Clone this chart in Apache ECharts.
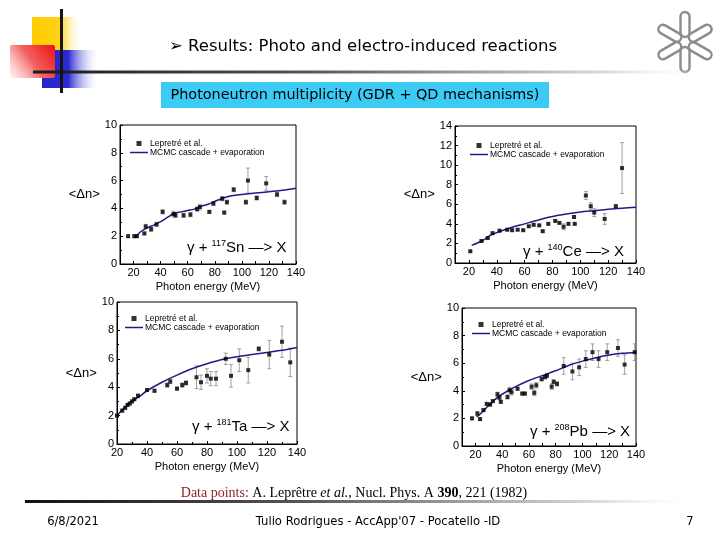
<!DOCTYPE html>
<html><head><meta charset="utf-8">
<script src="https://cdn.jsdelivr.net/npm/echarts@6/dist/echarts.min.js"></script>
<style>html,body{margin:0;padding:0;background:#fff}#c{width:720px;height:540px}</style>
</head><body><div id="c"></div>
<script>
// ---------- Panel 1: gamma + 117Sn ----------
const snX   = [16,20.5,22.5,28,29,33,37,41.5,49.5,51,57,62,67,69,76,79,85.5,87,89,94,103,104.5,111,118,126,131.5];
const snY   = [2.0,2.0,2.0,2.2,2.7,2.5,2.85,3.75,3.6,3.5,3.5,3.55,3.95,4.1,3.75,4.35,4.7,3.7,4.45,5.35,4.45,6.0,4.75,5.8,5.0,4.45];
const snErr = [0.1,0.1,0.1,0.1,0.15,0.15,0.15,0.15,0.2,0.15,0.15,0.15,0.15,0.2,0.1,0.15,0.15,0.1,0.15,0.15,0.15,0.9,0.15,0.5,0.15,0.15];
const snCurveX = [21,25,30,35,40,45,50,55,60,65,70,75,80,85,90,95,100,110,120,130,140];
const snCurveY = [1.9,2.3,2.6,2.8,3.05,3.35,3.65,3.75,3.85,3.95,4.15,4.3,4.5,4.7,4.85,4.95,5.0,5.1,5.2,5.3,5.45];

// ---------- Panel 2: gamma + 140Ce ----------
const ceX   = [21,29,33.5,37,42,47.5,51,55,59,63,66.5,70.5,73,77,82,85,88,91.5,95.5,96,104,107.5,110,117.5,125.5,130];
const ceY   = [1.2,2.25,2.55,3.05,3.3,3.4,3.35,3.4,3.35,3.75,3.9,3.85,3.25,4.0,4.3,4.1,3.7,4.0,4.7,4.0,6.9,5.8,5.15,4.5,5.8,9.7];
const ceErr = [0.1,0.1,0.1,0.1,0.1,0.1,0.1,0.1,0.1,0.1,0.1,0.1,0.1,0.1,0.1,0.1,0.3,0.1,0.15,0.1,0.4,0.35,0.4,0.55,0.15,2.6];
const ceCurveX = [22,30,35,40,50,60,70,80,90,100,110,120,130,140];
const ceCurveY = [1.8,2.3,2.8,3.1,3.6,4.0,4.4,4.75,5.0,5.2,5.35,5.5,5.6,5.7];

// ---------- Panel 3: gamma + 181Ta ----------
const taX   = [20,23.5,25.5,27,28.5,30,31.5,34,40,45,53.5,55.5,60,63.5,66,73,76,80,82.5,86,92.5,96,101.5,107.5,114.5,121.5,130,135.5];
const taY   = [2.0,2.35,2.55,2.75,2.85,3.0,3.15,3.4,3.8,3.75,4.15,4.4,3.9,4.15,4.3,4.7,4.35,4.8,4.6,4.6,6.0,4.8,5.9,5.2,6.7,6.3,7.2,5.75];
const taErr = [0.1,0.1,0.1,0.1,0.1,0.1,0.1,0.1,0.1,0.1,0.15,0.15,0.1,0.15,0.15,0.8,0.5,0.5,0.5,0.5,0.4,0.8,0.8,0.9,0.15,1.0,1.1,1.0];
const taCurveX = [20,25,30,35,40,50,60,70,80,90,100,110,120,130,140];
const taCurveY = [2.0,2.55,3.0,3.35,3.75,4.35,4.85,5.3,5.65,5.95,6.15,6.3,6.45,6.6,6.8];

// ---------- Panel 4: gamma + 208Pb ----------
const pbX   = [17.5,21.5,23.5,26,28.5,31,33,36.5,38,39,44,45.5,47,51.5,55,57,62,64,65.5,69.5,72,73.5,77,78.5,81,86,92.5,97.5,102.5,107.5,112,118.5,126.5,131.5,139];
const pbY   = [2.0,2.35,1.95,2.6,3.05,3.0,3.25,3.75,3.5,3.2,3.55,4.05,3.9,4.15,3.8,3.8,4.3,3.85,4.4,4.85,5.0,5.1,4.3,4.65,4.5,5.8,5.4,5.7,6.3,6.8,6.3,6.8,7.1,5.9,6.8];
const pbErr = [0.1,0.15,0.1,0.1,0.1,0.1,0.1,0.15,0.15,0.1,0.15,0.2,0.2,0.1,0.1,0.1,0.2,0.2,0.2,0.15,0.15,0.15,0.2,0.15,0.15,0.6,0.6,0.6,0.6,0.6,0.6,0.6,0.6,0.7,0.6];
const pbCurveX = [21,25,30,35,40,50,60,70,80,90,100,110,120,130,140];
const pbCurveY = [2.1,2.45,2.95,3.4,3.75,4.3,4.75,5.1,5.45,5.85,6.15,6.4,6.6,6.72,6.78];

// ---------- Tick / axis settings ----------
const xTickStep = 10;
const yMaxs = [10, 14, 10, 10];
const xMins = [10, 10, 20, 10];
const xMax = 140;
const yTickStep = 2;

const dataName = 'Lepretré et al.';
const curveName = 'MCMC cascade + evaporation';
const xTitle = 'Photon energy (MeV)';
const yTitle = '<Δn>';

const panelData = [
  {x: snX, y: snY, e: snErr, cx: snCurveX, cy: snCurveY},
  {x: ceX, y: ceY, e: ceErr, cx: ceCurveX, cy: ceCurveY},
  {x: taX, y: taY, e: taErr, cx: taCurveX, cy: taCurveY},
  {x: pbX, y: pbY, e: pbErr, cx: pbCurveX, cy: pbCurveY}
];

// layout (pixels)
const grids = [
  {left: 120, top: 125, width: 176, height: 139},
  {left: 455, top: 126, width: 181, height: 137},
  {left: 117, top: 302, width: 180, height: 142},
  {left: 462, top: 308, width: 174, height: 138}
];
const yNameGaps = [17, 8, 10, 9];
const legendPos = [
  {left: 125, top: 134},
  {left: 465, top: 136},
  {left: 120, top: 309},
  {left: 467, top: 315}
];

const chart = echarts.init(document.getElementById('c'), null, {renderer: 'canvas'});
const axisFont = 'Liberation Sans, Arial, sans-serif';

const xAxes = [], yAxes = [], series = [], legends = [];
panelData.forEach((p, i) => {
  xAxes.push({
    type: 'value', gridIndex: i, min: xMins[i], max: xMax,
    interval: i === 2 ? 20 : xTickStep,
    name: xTitle, nameLocation: 'middle', nameGap: 17,
    nameTextStyle: {fontFamily: axisFont, fontSize: 11, color: '#000'},
    axisLine: {onZero: false, lineStyle: {color: '#000', width: 1}},
    axisTick: {inside: true, length: 3, lineStyle: {color: '#000'}},
    minorTick: {show: i === 2, splitNumber: 2, length: 2, lineStyle: {color: '#000'}},
    splitLine: {show: false},
    axisLabel: {fontFamily: axisFont, fontSize: 11, color: '#000', margin: 3,
      formatter: v => (v % 20 === 0 ? String(v) : '')}
  });
  yAxes.push({
    type: 'value', gridIndex: i, min: 0, max: yMaxs[i], interval: yTickStep,
    name: yTitle, nameLocation: 'middle', nameRotate: 0, nameGap: yNameGaps[i],
    nameTextStyle: {fontFamily: axisFont, fontSize: 13, color: '#000'},
    axisLine: {onZero: false, lineStyle: {color: '#000', width: 1}},
    axisTick: {inside: true, length: 3, lineStyle: {color: '#000'}},
    minorTick: {show: true, splitNumber: 2, length: 2, lineStyle: {color: '#000'}},
    splitLine: {show: false},
    axisLabel: {fontFamily: axisFont, fontSize: 11, color: '#000', margin: 3}
  });
  const pts = p.x.map((x, k) => [x, p.y[k], p.e[k]]);
  series.push({
    type: 'custom', name: 'err' + i, xAxisIndex: i, yAxisIndex: i, silent: true,
    data: pts, z: 2,
    renderItem: (params, api) => {
      const x = api.value(0), y = api.value(1), e = api.value(2);
      const lo = api.coord([x, y - e]), hi = api.coord([x, y + e]);
      const st = {stroke: '#8a8a8a', lineWidth: 0.8};
      return {type: 'group', children: [
        {type: 'line', shape: {x1: lo[0], y1: lo[1], x2: hi[0], y2: hi[1]}, style: st},
        {type: 'line', shape: {x1: lo[0] - 2, y1: lo[1], x2: lo[0] + 2, y2: lo[1]}, style: st},
        {type: 'line', shape: {x1: hi[0] - 2, y1: hi[1], x2: hi[0] + 2, y2: hi[1]}, style: st}
      ]};
    }
  });
  series.push({
    type: 'scatter', name: dataName, xAxisIndex: i, yAxisIndex: i,
    symbol: 'rect', symbolSize: 4, itemStyle: {color: '#000'}, z: 4,
    data: pts.map(d => [d[0], d[1]])
  });
  series.push({
    type: 'line', name: curveName, xAxisIndex: i, yAxisIndex: i,
    symbol: 'none', smooth: 0.3, z: 3,
    lineStyle: {color: '#1c1c8c', width: 1.5}, itemStyle: {color: '#1c1c8c'},
    data: p.cx.map((x, k) => [x, p.cy[k]])
  });
  legends.push({
    left: legendPos[i].left, top: legendPos[i].top, orient: 'vertical',
    itemWidth: 18, itemHeight: 5, itemGap: 0, selectedMode: false,
    textStyle: {fontFamily: axisFont, fontSize: 8.5, color: '#000', padding: [0, 0, 0, -3]},
    data: [
      {name: dataName, icon: 'path://M0 0H10V10H0Z', itemStyle: {color: '#000'}},
      {name: curveName, icon: 'path://M0 0H36V3H0Z', itemStyle: {color: '#1c1c8c'}}
    ]
  });
});

const reactionRich = {
  n: {fontSize: 15, fontFamily: axisFont, fill: '#000', lineHeight: 18},
  s: {fontSize: 9, fontFamily: axisFont, fill: '#000', lineHeight: 18, verticalAlign: 'top', padding: [0, 0, 8, 0]}
};
const reactions = [
  {x: 187, y: 239, text: '{n|γ + }{s|117}{n|Sn —> X}'},
  {x: 523, y: 243, text: '{n|γ + }{s|140}{n|Ce —> X}'},
  {x: 192, y: 418, text: '{n|γ + }{s|181}{n|Ta —> X}'},
  {x: 530, y: 423, text: '{n|γ + }{s|208}{n|Pb —> X}'}
];

const slideFont = 'DejaVu Sans, sans-serif';
const serif = 'Liberation Serif, serif';
const graphics = [
  // decorative squares
  {type: 'rect', shape: {x: 32, y: 17, width: 51, height: 33}, z: 1,
   style: {fill: {type: 'linear', x: 0, y: 0, x2: 1, y2: 0, colorStops: [
     {offset: 0, color: '#FFCC00'}, {offset: 0.55, color: '#FFD21A'}, {offset: 1, color: 'rgba(255,255,255,0)'}]}}},
  {type: 'rect', shape: {x: 42, y: 50, width: 58, height: 38}, z: 2,
   style: {fill: {type: 'linear', x: 0, y: 0, x2: 1, y2: 0, colorStops: [
     {offset: 0, color: '#2626C8'}, {offset: 0.45, color: '#2a2ad0'}, {offset: 1, color: 'rgba(255,255,255,0)'}]}}},
  {type: 'rect', shape: {x: 10, y: 45, width: 45, height: 33, r: 2}, z: 3,
   style: {fill: {type: 'linear', x: 1, y: 0, x2: 0, y2: 1, colorStops: [
     {offset: 0, color: '#EE1111'}, {offset: 0.5, color: '#F46060'}, {offset: 1, color: 'rgba(255,235,235,0.6)'}]}}},
  {type: 'rect', shape: {x: 60, y: 9, width: 3, height: 84}, z: 5, style: {fill: '#151515'}},
  {type: 'rect', shape: {x: 33, y: 70.5, width: 680, height: 3}, z: 4,
   style: {fill: {type: 'linear', x: 0, y: 0, x2: 1, y2: 0, colorStops: [
     {offset: 0, color: '#1a1a1a'}, {offset: 0.4, color: '#555'}, {offset: 0.85, color: '#ddd'}, {offset: 1, color: 'rgba(255,255,255,0)'}]}}},
  // title
  {type: 'text', x: 169, y: 47, z: 6, style: {text: '➢ Results: Photo and electro-induced reactions',
    fontFamily: slideFont, fontSize: 16.5, fill: '#000', verticalAlign: 'middle'}},
  // subtitle box
  {type: 'rect', shape: {x: 161, y: 82, width: 388, height: 26}, z: 1, style: {fill: '#3CCBF4'}},
  {type: 'text', x: 355, y: 95, z: 6, style: {text: 'Photoneutron multiplicity (GDR + QD mechanisms)',
    fontFamily: slideFont, fontSize: 14.4, fill: '#000', align: 'center', verticalAlign: 'middle'}},
  // citation
  {type: 'text', x: 354, y: 493, z: 6, style: {
    text: '{r|Data points:}{t| A. Leprêtre }{i|et al.}{t|, Nucl. Phys. A }{b|390}{t|, 221 (1982)}',
    align: 'center', verticalAlign: 'middle',
    rich: {
      r: {fontFamily: serif, fontSize: 14, fill: '#8B1E1E'},
      t: {fontFamily: serif, fontSize: 14, fill: '#000'},
      i: {fontFamily: serif, fontSize: 14, fontStyle: 'italic', fill: '#000'},
      b: {fontFamily: serif, fontSize: 14, fontWeight: 'bold', fill: '#000'}
    }}},
  {type: 'rect', shape: {x: 25, y: 500, width: 680, height: 3}, z: 4,
   style: {fill: {type: 'linear', x: 0, y: 0, x2: 1, y2: 0, colorStops: [
     {offset: 0, color: '#111'}, {offset: 0.4, color: '#555'}, {offset: 0.85, color: '#ddd'}, {offset: 1, color: 'rgba(255,255,255,0)'}]}}},
  // footer
  {type: 'text', x: 73, y: 522, style: {text: '6/8/2021', fontFamily: slideFont, fontSize: 11.5, fill: '#000', align: 'center', verticalAlign: 'middle'}},
  {type: 'text', x: 378, y: 522, style: {text: "Tulio Rodrigues - AccApp'07 - Pocatello -ID", fontFamily: slideFont, fontSize: 11.6, fill: '#000', align: 'center', verticalAlign: 'middle'}},
  {type: 'text', x: 690, y: 522, style: {text: '7', fontFamily: slideFont, fontSize: 11.5, fill: '#000', align: 'center', verticalAlign: 'middle'}}
];
// logo: six rounded loops
[30, 90, 150, 210, 270, 330].forEach(a => {
  graphics.push({type: 'rect', x: 685, y: 42, rotation: a * Math.PI / 180,
    shape: {x: 5, y: -4.5, width: 25, height: 9, r: 4.5},
    style: {fill: 'none', stroke: '#8c8c8c', lineWidth: 2.4}});
});
reactions.forEach(r => {
  graphics.push({type: 'text', x: r.x, y: r.y, z: 6, style: {text: r.text, rich: reactionRich}});
});

chart.setOption({
  backgroundColor: '#fff',
  animation: false,
  grid: grids.map(g => Object.assign({show: true, borderColor: '#000', borderWidth: 1, backgroundColor: 'transparent'}, g)),
  xAxis: xAxes, yAxis: yAxes, series: series, legend: legends, graphic: graphics
});
</script></body></html>
